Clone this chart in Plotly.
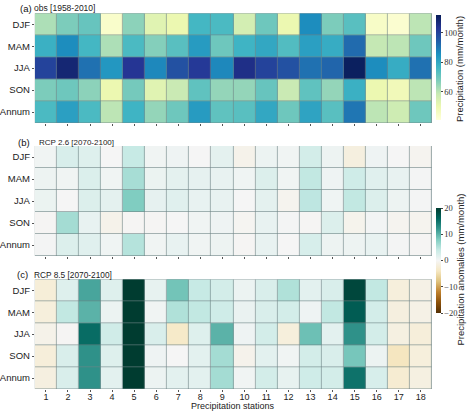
import plotly.graph_objects as go
from plotly.colors import sequential, diverging
from plotly.subplots import make_subplots

W, H = 474, 413

stations = list(range(1, 19))
seasons = ['DJF', 'MAM', 'JJA', 'SON', 'Annum']

obs = [
    [62, 68, 71, 44, 66, 53, 50, 76, 75, 56, 70, 50, 86, 68, 73, 45, 43, 60],
    [78, 86, 76, 62, 75, 67, 73, 83, 70, 77, 80, 74, 82, 79, 92, 59, 60, 70],
    [100, 108, 91, 84, 103, 87, 97, 102, 87, 105, 100, 97, 91, 93, 111, 86, 79, 91],
    [68, 70, 66, 50, 69, 53, 58, 72, 65, 65, 71, 58, 72, 65, 78, 50, 48, 60],
    [75, 82, 75, 60, 77, 65, 70, 83, 72, 73, 80, 70, 81, 73, 90, 60, 57, 70],
]
rcp26 = [
    [0.4, 2.5, 2, 0, 4, 0.4, 0.6, 0, 1.5, -0.9, 0.8, 0.4, 3, 0.7, -1.8, 0.6, 0, -0.5],
    [0.7, 0.4, 2.3, 0.4, 5.8, 0.9, 1.5, 1.3, 1.1, 0.5, 2.2, 0.4, 4.3, 0.6, 3.3, 1.8, 1.1, 0.2],
    [0.9, 0, 2.2, 1.5, 8, 1.3, 1.8, 1.1, 1.1, 0, 1.5, -0.6, 4.5, 0.5, 4.3, 2.2, 0.7, 0.2],
    [-0.2, 6, 1.1, -0.9, -0.2, -0.2, 0, 0.4, 0.6, -0.3, 1.1, 0.2, -0.2, 2.2, -0.7, 0.3, -0.5, -0.6],
    [0.2, 2.2, 1.8, 0.5, 5, 0.4, 1.1, 0.4, 0.7, -0.2, 1.1, 0, 2.6, 0.7, 0.7, 1.1, 0.2, -0.2],
]
rcp85 = [
    [-2.3, 2, 11, 2, 22, 1.2, 8.7, 4, 3, 0.8, 2.4, 5.3, 1.6, 2.4, 19, 4.3, -2, -1.2],
    [-2, 4.3, 10, 0.8, 22, 0.4, 5.3, 4.3, 3.3, 1, 2.4, 3, 0.6, 4.3, 17, 3, -1.8, -1.2],
    [-1, -0.2, 15.5, 3.2, 22, 2.4, -3.5, 2, 10, 0.6, 3, -2, 9, 1.6, 12.5, 3, -1.6, -2.2],
    [-2.2, 2.4, 12.5, 2, 22, 0.6, 0, 1.6, 6, -0.8, 1.6, 0.4, 3, 2.4, 8.5, 0.8, -4.2, -2],
    [-1.7, 2.4, 12.5, 1.6, 22, 0.8, 1.6, 1.6, 6, 0.4, 3, 1.2, 3.3, 3, 15, 2.6, -2.8, -1.6],
]

sans = 'Liberation Sans'
serif = 'Liberation Serif'

def fx(px):
    return px / W

def fy(px):
    return 1 - px / H

fig = make_subplots(rows=3, cols=1)

# pixel boxes of the panels
panels = [(13.3, 123), (146, 256), (279.3, 389)]
x0, x1 = 33, 431.7

fig.add_trace(go.Heatmap(
    z=obs, x=stations, y=seasons, zmin=41, zmax=112,
    colorscale=sequential.YlGnBu, xgap=0.6, ygap=0.6,
    colorbar=dict(
        x=fx(436.3), xanchor='left', thickness=5, thicknessmode='pixels',
        y=fy(120), yanchor='bottom', len=105 / H, lenmode='fraction',
        outlinewidth=0, xpad=0, ypad=0, tickvals=[60, 80, 100],
        ticks='outside', ticklen=2, tickwidth=0.5,
        tickfont=dict(family=serif, size=8.5, color='#333333'),
    ),
), row=1, col=1)
fig.add_trace(go.Heatmap(
    z=rcp26, x=stations, y=seasons, zmin=-20, zmax=20,
    colorscale=diverging.BrBG, xgap=0.6, ygap=0.6,
    colorbar=dict(
        x=fx(436.3), xanchor='left', thickness=5, thicknessmode='pixels',
        y=fy(313), yanchor='bottom', len=105.3 / H, lenmode='fraction',
        outlinewidth=0, xpad=0, ypad=0, tickvals=[-20, -10, 0, 10, 20],
        ticktext=['\u221220', '\u221210', '0', '10', '20'],
        ticks='outside', ticklen=2, tickwidth=0.5,
        tickfont=dict(family=serif, size=8.5, color='#333333'),
    ),
), row=2, col=1)
fig.add_trace(go.Heatmap(
    z=rcp85, x=stations, y=seasons, zmin=-20, zmax=20,
    colorscale=diverging.BrBG, showscale=False, xgap=0.6, ygap=0.6,
), row=3, col=1)

for i, (top, bottom) in enumerate(panels):
    n = i + 1
    fig.update_xaxes(
        row=n, col=1, domain=[fx(x0), fx(x1)], tickmode='array', tickvals=stations,
        showticklabels=(n == 3), ticks='outside', ticklen=2, tickwidth=0.6,
        tickcolor='#555555', showgrid=False, zeroline=False, showline=False,
        ticklabelstandoff=-3,
        tickfont=dict(family=sans, size=9, color='#222222'),
    )
    fig.update_yaxes(
        row=n, col=1, domain=[fy(bottom), fy(top)], autorange='reversed',
        ticks='outside', ticklen=2, tickwidth=0.6, tickcolor='#555555',
        showgrid=False, zeroline=False, showline=False,
        tickfont=dict(family=sans, size=9.5, color='#222222'),
    )

fig.update_layout(
    width=W, height=H, margin=dict(l=0, r=0, t=0, b=0),
    paper_bgcolor='white', showlegend=False,
    plot_bgcolor='#6f8486',
    font=dict(family=sans),
)

labels = [('(a)', 'obs [1958-2010]', 20, 33, 8.2, 8.5),
          ('(b)', 'RCP 2.6 [2070-2100]', 18, 38, 142, 8),
          ('(c)', 'RCP 8.5 [2070-2100]', 17, 33, 274.5, 8.3)]
for tag, text, tag_x, text_x, ypos, size in labels:
    fig.add_annotation(text=tag, xref='paper', yref='paper', x=fx(tag_x), y=fy(ypos),
                       xanchor='left', yanchor='middle', showarrow=False,
                       font=dict(family=sans, size=9.5, color='#111111'), xshift=-4)
    fig.add_annotation(text=text, xref='paper', yref='paper', x=fx(text_x), y=fy(ypos),
                       xanchor='left', yanchor='middle', showarrow=False,
                       font=dict(family=sans, size=size, color='#222222'), xshift=-3)

fig.add_annotation(text='Precipitation stations', xref='paper', yref='paper', x=fx(232), y=fy(406),
                   xanchor='center', yanchor='middle', showarrow=False,
                   font=dict(family=sans, size=9, color='#222222'))
fig.add_annotation(text='Precipitation (mm/month)', xref='paper', yref='paper', x=fx(460), y=fy(69),
                   xanchor='center', yanchor='middle', textangle=-90, showarrow=False,
                   font=dict(family=sans, size=9.5, color='#222222'))
fig.add_annotation(text='Precipitation anomalies (mm/month)', xref='paper', yref='paper', x=fx(460), y=fy(269.5),
                   xanchor='center', yanchor='middle', textangle=-90, showarrow=False,
                   font=dict(family=sans, size=9.5, color='#222222'))

fig.write_html("out.html", config=dict(displayModeBar=False),
               post_script="document.body.style.margin='0';")
